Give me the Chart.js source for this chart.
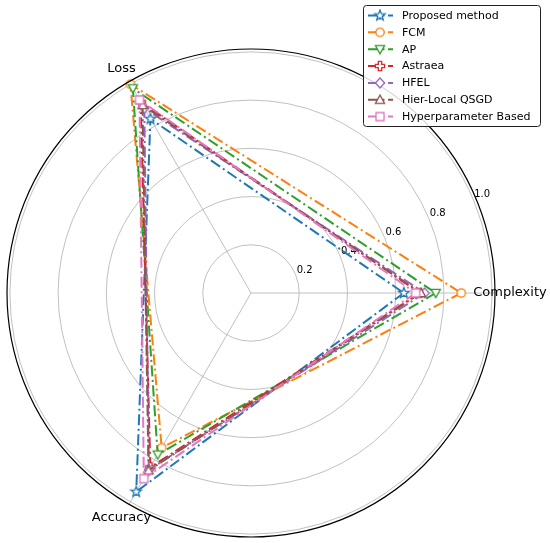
<!DOCTYPE html>
<html>
<head>
<meta charset="utf-8">
<script src="https://cdn.jsdelivr.net/npm/chart.js@4.4.0/dist/chart.umd.min.js"></script>
<style>
  html, body { margin: 0; padding: 0; background: #fff; }
  #wrap { width: 550px; height: 543px; position: relative; }
</style>
</head>
<body>
<div id="wrap"><canvas id="radar"></canvas></div>
<script>
// axes in Chart.js order (clockwise starting at the right)
const categories = ['Complexity', 'Accuracy', 'Loss'];
const radialTicks = [0.2, 0.4, 0.6, 0.8, 1.0];

const seriesNames = ['Proposed method', 'FCM', 'AP', 'Astraea', 'HFEL', 'Hier-Local QSGD', 'Hyperparameter Based'];
const proposed   = [0.634, 0.952, 0.834];
const fcm        = [0.872, 0.741, 1.0];
const ap         = [0.766, 0.774, 0.98];
const astraea    = [0.70, 0.835, 0.915];
const hfel       = [0.72, 0.847, 0.885];
const hierLocal  = [0.705, 0.85, 0.90];
const hyperparam = [0.683, 0.889, 0.925];

const seriesValues = [proposed, fcm, ap, astraea, hfel, hierLocal, hyperparam];
const colors = ['#1f77b4', '#ff7f0e', '#2ca02c', '#d62728', '#9467bd', '#8c564b', '#e377c2'];
const shapes = ['star', 'circle', 'tridown', 'plus', 'diamond', 'triup', 'square'];
const dash = [11, 3.5, 2, 3.5];

// hollow matplotlib-like markers
function makeMarker(shape, color) {
  const s = 14;
  const c = document.createElement('canvas');
  c.width = s; c.height = s;
  const g = c.getContext('2d');
  g.translate(s / 2, s / 2);
  g.beginPath();
  if (shape === 'star') {
    for (let i = 0; i < 10; i++) {
      const r = i % 2 ? 2.3 : 5.5;
      const a = -Math.PI / 2 + i * Math.PI / 5;
      g.lineTo(r * Math.cos(a), r * Math.sin(a));
    }
    g.closePath();
  } else if (shape === 'circle') {
    g.arc(0, 0, 4.2, 0, 2 * Math.PI);
  } else if (shape === 'tridown') {
    g.moveTo(-4.6, -3.6); g.lineTo(4.6, -3.6); g.lineTo(0, 4.6); g.closePath();
  } else if (shape === 'triup') {
    g.moveTo(-4.6, 3.6); g.lineTo(4.6, 3.6); g.lineTo(0, -4.6); g.closePath();
  } else if (shape === 'plus') {
    const a = 1.7, b = 4.6;
    [[-a, -b], [a, -b], [a, -a], [b, -a], [b, a], [a, a], [a, b], [-a, b], [-a, a], [-b, a], [-b, -a], [-a, -a]]
      .forEach(p => g.lineTo(p[0], p[1]));
    g.closePath();
  } else if (shape === 'diamond') {
    g.moveTo(0, -5); g.lineTo(4.6, 0); g.lineTo(0, 5); g.lineTo(-4.6, 0); g.closePath();
  } else {
    g.rect(-4, -4, 8, 8);
  }
  g.fillStyle = '#fff';
  g.fill();
  g.lineWidth = 1.3;
  g.strokeStyle = color;
  g.stroke();
  return c;
}

const markers = shapes.map((s, i) => makeMarker(s, colors[i]));

const decorations = {
  id: 'decorations',
  beforeDatasetsDraw(chart) {
    const ctx = chart.ctx, r = chart.scales.r;
    ctx.save();
    ctx.font = '10px "DejaVu Sans"';
    ctx.fillStyle = '#000';
    ctx.textAlign = 'center';
    ctx.textBaseline = 'middle';
    const a = 23 * Math.PI / 180;
    radialTicks.forEach(v => {
      const d = r.getDistanceFromCenterForValue(v) + 10;
      ctx.fillText(v.toFixed(1), r.xCenter + d * Math.cos(a), r.yCenter - d * Math.sin(a));
    });
    ctx.restore();
  },
  afterDatasetsDraw(chart) {
    const ctx = chart.ctx, r = chart.scales.r;
    ctx.save();
    // outer spine
    ctx.beginPath();
    ctx.arc(r.xCenter, r.yCenter, r.drawingArea, 0, 2 * Math.PI);
    ctx.strokeStyle = '#000';
    ctx.lineWidth = 1.2;
    ctx.stroke();

    // axis names
    ctx.font = '13px "DejaVu Sans"';
    ctx.fillStyle = '#000';
    ctx.textAlign = 'center';
    ctx.textBaseline = 'middle';
    categories.forEach((name, i) => {
      const p = r.getPointPosition(i, r.drawingArea + 15);
      ctx.fillText(name, p.x, p.y);
    });

    // legend box
    ctx.beginPath();
    ctx.roundRect(363.5, 5.5, 177, 121, 3);
    ctx.fillStyle = 'rgba(255,255,255,0.85)';
    ctx.fill();
    ctx.strokeStyle = '#222';
    ctx.lineWidth = 1;
    ctx.stroke();
    ctx.font = '11px "DejaVu Sans"';
    ctx.textAlign = 'left';
    seriesNames.forEach((name, i) => {
      const y = 15.5 + i * 16.85;
      ctx.beginPath();
      ctx.setLineDash(dash);
      ctx.moveTo(368, y);
      ctx.lineTo(393, y);
      ctx.strokeStyle = colors[i];
      ctx.lineWidth = 2;
      ctx.stroke();
      ctx.setLineDash([]);
      ctx.drawImage(markers[i], 380 - 7, y - 7);
      ctx.fillStyle = '#000';
      ctx.fillText(name, 402, y + 0.5);
    });
    ctx.restore();
  }
};

new Chart(document.getElementById('radar'), {
  type: 'radar',
  data: {
    labels: categories,
    datasets: seriesValues.map((vals, i) => ({
      label: seriesNames[i],
      data: vals,
      borderColor: colors[i],
      backgroundColor: colors[i],
      borderWidth: 2,
      borderDash: dash,
      fill: false,
      pointStyle: markers[i],
      pointRadius: 5,
      order: seriesValues.length - i,
    })),
  },
  options: {
    responsive: true,
    maintainAspectRatio: false,
    animation: false,
    layout: { padding: { left: 7, right: 55, top: 49, bottom: 6 } },
    elements: { line: { tension: 0 } },
    plugins: {
      legend: { display: false },
      tooltip: { enabled: false },
    },
    scales: {
      r: {
        min: 0,
        max: 1.012,
        startAngle: 90,
        ticks: { display: false, stepSize: 0.2, includeBounds: false },
        grid: { circular: true, color: '#b0b0b0', lineWidth: 0.8 },
        angleLines: { color: '#b0b0b0', lineWidth: 0.8 },
        pointLabels: { display: false },
      },
    },
  },
  plugins: [decorations],
});
</script>
</body>
</html>
